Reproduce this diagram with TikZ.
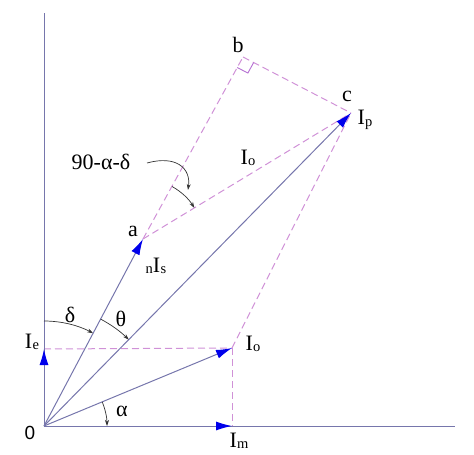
\documentclass[tikz,border=0pt]{standalone}
\usepackage{fontspec}
\setmainfont{Liberation Serif}
\newfontfamily\sansf{Liberation Sans}
\usetikzlibrary{arrows.meta,calc}
\definecolor{vec}{RGB}{118,118,172}
\definecolor{dsh}{RGB}{208,145,215}
\definecolor{sqc}{RGB}{180,110,210}
\definecolor{tipc}{RGB}{0,0,235}
\newcommand\smallsub[1]{\raisebox{-1.5pt}{\fontsize{14.5}{14.5}\selectfont #1}}
\newcommand\Isub[1]{I\kern0.3pt\smallsub{#1}}
\tikzset{
  vecline/.style={draw=vec, line width=1pt},
  vecarrow/.style={vecline, -{Latex[color=tipc,length=16pt,width=9pt]}},
  dline/.style={draw=dsh, line width=1pt, dash pattern=on 7pt off 4pt},
  angarc/.style={draw=black!80, line width=0.7pt, -{Stealth[length=6pt,width=4pt]}},
  lab/.style={font=\fontsize{22}{22}\selectfont, inner sep=0pt}
}
\begin{document}
\begin{tikzpicture}[x=1pt,y=-1pt]
\useasboundingbox (0,0) rectangle (474,455);
% points
\coordinate (O) at (44,426);
\coordinate (ytop) at (44,13);
\coordinate (xend) at (455,426);
\coordinate (Im) at (232,426);
\coordinate (Ie) at (44,349);
\coordinate (Io) at (232,348);
\coordinate (a) at (143,239);
\coordinate (b) at (243,57);
\coordinate (c) at (351,113);
\coordinate (sqa) at ($(b)!12pt!(a)$);
\coordinate (sqb) at ($(b)!12pt!(c)$);
\coordinate (sqd) at ($(sqa)+(sqb)-(b)$);
% dashed construction
\draw[dline] (Ie) -- (Io);
\draw[dline] (Io) -- (Im);
\draw[dline] (Io) -- (c);
\draw[dline] (a) -- (b);
\draw[dline] (b) -- (c);
\draw[dline] (a) -- (c);
\draw[draw=sqc, line width=0.9pt] (sqa) -- (sqd) -- (sqb);
% axes
\draw[vecline] (O) -- (ytop);
\draw[vecline] (O) -- (xend);
% vectors
\draw[vecarrow] (O) -- (Im);
\draw[vecarrow] (O) -- (Ie);
\draw[vecarrow] (O) -- (Io);
\draw[vecarrow] (O) -- (a);
\draw[vecarrow] (O) -- (c);
% angle arcs
\draw[angarc, {Stealth[length=6pt,width=4pt]}-] ([shift={(0:63)}]O) arc[start angle=0, end angle=-22.5, radius=63];
\draw[angarc] ([shift={(-90:105)}]O) arc[start angle=-90, end angle=-62.1, radius=105];
\draw[angarc] ([shift={(-62.1:121)}]O) arc[start angle=-62.1, end angle=-45.55, radius=121];
\draw[angarc] ([shift={(-61.1:60)}]a) arc[start angle=-61.1, end angle=-31.2, radius=60];
% annotation arrow
\coordinate (annS) at (147,163);
\coordinate (annE) at (188,190);
\draw[angarc] (annS) .. controls (176,155) and (191,168) .. (annE);
% labels
\node[lab, font=\sansf\fontsize{19}{19}\selectfont] (l0) at (30,433) {0};
\node[lab] (lIm) at (239,441) {\Isub{m}};
\node[lab] (lIo) at (253,344) {\Isub{o}};
\node[lab] (lIe) at (32,342) {\Isub{e}};
\node[lab] (lal) at (122,411) {α};
\node[lab] (lde) at (70,315) {δ};
\node[lab] (lth) at (121,319) {θ};
\node[lab] (la) at (133,231) {a};
\node[lab] (lnIs) at (156,266) {\smallsub{n}\Isub{s}};
\node[lab] (lc) at (347,96) {c};
\node[lab] (lIp) at (365,120) {\Isub{p}};
\node[lab] (lb) at (238,45) {b};
\node[lab] (lIo2) at (248,158) {\Isub{o}};
\node[lab] (lang) at (101,162) {90-α-δ};
\end{tikzpicture}
\end{document}
